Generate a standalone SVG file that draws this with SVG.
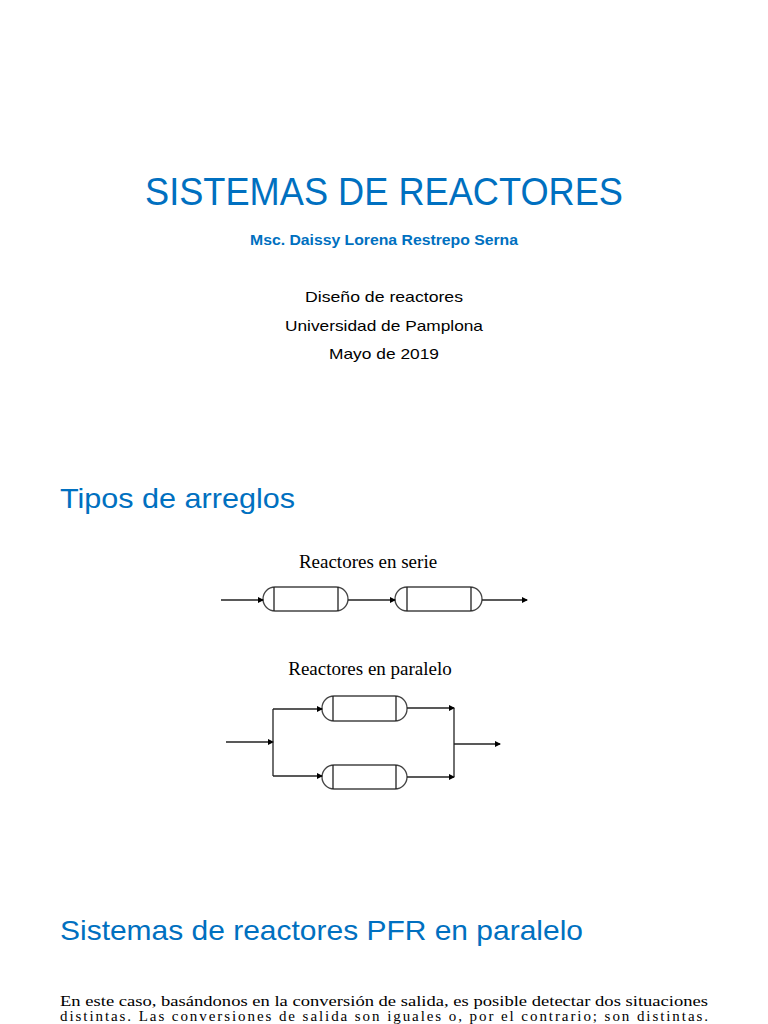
<svg xmlns="http://www.w3.org/2000/svg" width="768" height="1024" viewBox="0 0 768 1024">
<defs>
<marker id="a" markerWidth="6" markerHeight="6" refX="5" refY="3" orient="auto" markerUnits="userSpaceOnUse"><path d="M0,0 L6,3 L0,6z" fill="#000"/></marker>
<style>
.b{fill:#0070C0;font-family:"Liberation Sans",Arial,sans-serif}
.k{fill:#000;font-family:"Liberation Sans",Arial,sans-serif;font-size:15px;text-anchor:middle}
.t{fill:#000;font-family:"Liberation Serif","Times New Roman",serif}
.r{fill:#fff;stroke:#444;stroke-width:1.3}
.l{fill:none;stroke:#222;stroke-width:1.3}
</style>
</defs>
<rect width="768" height="1024" fill="#fff"/>
<text class="b" x="384" y="205" font-size="38" text-anchor="middle" textLength="478" lengthAdjust="spacingAndGlyphs">SISTEMAS DE REACTORES</text>
<text class="b" x="384" y="245" font-size="15" font-weight="bold" text-anchor="middle" textLength="268" lengthAdjust="spacingAndGlyphs">Msc. Daissy Lorena Restrepo Serna</text>
<text class="k" x="384" y="302" textLength="158" lengthAdjust="spacingAndGlyphs">Diseño de reactores</text>
<text class="k" x="384" y="331" textLength="198" lengthAdjust="spacingAndGlyphs">Universidad de Pamplona</text>
<text class="k" x="384" y="359" textLength="110" lengthAdjust="spacingAndGlyphs">Mayo de 2019</text>
<text class="b" x="60" y="508" font-size="28" textLength="235" lengthAdjust="spacingAndGlyphs">Tipos de arreglos</text>
<text class="t" x="368" y="568" font-size="19" text-anchor="middle">Reactores en serie</text>
<text class="t" x="370" y="675" font-size="19" text-anchor="middle">Reactores en paralelo</text>
<g id="r1"><rect class="r" x="263" y="587" width="85" height="24" rx="12"/><path class="l" d="M274,587V611M338,587V611"/></g>
<g id="r2"><rect class="r" x="395" y="587" width="87" height="24" rx="12"/><path class="l" d="M407,587V611M471,587V611"/></g>
<g id="r3"><rect class="r" x="322" y="696" width="85" height="25" rx="12"/><path class="l" d="M333,696V721M396,696V721"/></g>
<g id="r4"><rect class="r" x="322" y="765" width="85" height="24" rx="12"/><path class="l" d="M333,765V789M396,765V789"/></g>
<g id="conn" class="l">
<path class="l" d="M221,600H263" marker-end="url(#a)"/>
<path class="l" d="M348,600H395" marker-end="url(#a)"/>
<path class="l" d="M482,600H527" marker-end="url(#a)"/>
<path class="l" d="M226,742H273" marker-end="url(#a)"/>
<path class="l" d="M273,709V776"/>
<path class="l" d="M273,709H322" marker-end="url(#a)"/>
<path class="l" d="M273,776H322" marker-end="url(#a)"/>
<path class="l" d="M407,708H454" marker-end="url(#a)"/>
<path class="l" d="M407,777H454" marker-end="url(#a)"/>
<path class="l" d="M454,708V777"/>
<path class="l" d="M454,744H500" marker-end="url(#a)"/>
</g>
<text class="b" x="60" y="940" font-size="28" textLength="523" lengthAdjust="spacingAndGlyphs">Sistemas de reactores PFR en paralelo</text>
<text class="t" x="60" y="1006" font-size="15" textLength="648" lengthAdjust="spacingAndGlyphs">En este caso, basándonos en la conversión de salida, es posible detectar dos situaciones</text>
<text class="t" x="60" y="1021" font-size="15" textLength="648" lengthAdjust="spacing">distintas. Las conversiones de salida son iguales o, por el contrario; son distintas.</text>
</svg>
